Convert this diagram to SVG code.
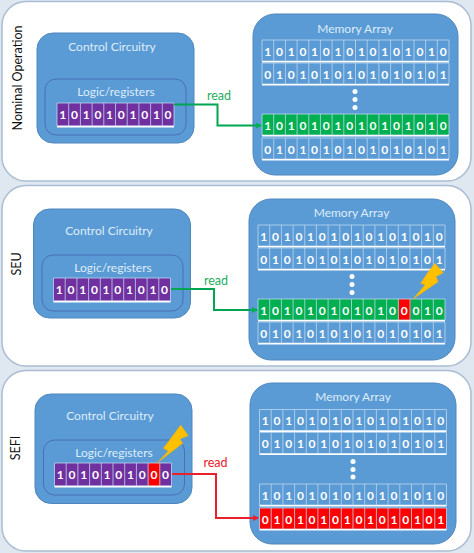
<svg xmlns="http://www.w3.org/2000/svg" width="474" height="553" viewBox="0 0 474 553">
<style>
.panel{fill:#fff;stroke:#aabdd2;stroke-width:1.5}
.box{fill:#5b9bd5;stroke:#4f86bd;stroke-width:1}
.logic{fill:#5b9bd5;stroke:#4a6fb5;stroke-width:1}
.cells{fill:none;stroke:#bdd7ee;stroke-width:.8}
.base{stroke:#fff;stroke-width:1.6;fill:none}
.title{font:12px Lato,"Liberation Sans",sans-serif;fill:#ddecf8;text-anchor:middle}
.bits{font:bold 12px Lato,"Liberation Sans",sans-serif;fill:#fff;text-anchor:middle}
.side{font:12.5px Lato,"Liberation Sans",sans-serif;fill:#111;text-anchor:middle}
.read{font:12.5px Lato,"Liberation Sans",sans-serif;text-anchor:middle}
.bolt{fill:#ffc000;stroke:#e8ad10;stroke-width:.5}
.wire{fill:none;stroke-width:2}
.dot{fill:#fff}
</style>
<defs>
<marker id="ag" markerWidth="6" markerHeight="6" refX="5" refY="3" orient="auto" markerUnits="userSpaceOnUse"><path d="M0 0L6 3L0 6z" fill="#00b050"/></marker>
<marker id="ar" markerWidth="6" markerHeight="6" refX="5" refY="3" orient="auto" markerUnits="userSpaceOnUse"><path d="M0 0L6 3L0 6z" fill="#e8212b"/></marker>
<g id="reg"><path class="cells" d="M0 0H117V23H0ZM11.7 0V23M23.4 0V23M35.1 0V23M46.8 0V23M58.5 0V23M70.2 0V23M81.9 0V23M93.6 0V23M105.3 0V23"/><path class="base" d="M0 23.6H117"/></g>
<g id="row"><path class="cells" d="M0 0H187V21H0ZM11.7 0V21M23.4 0V21M35.1 0V21M46.8 0V21M58.4 0V21M70.1 0V21M81.8 0V21M93.5 0V21M105.2 0V21M116.9 0V21M128.6 0V21M140.3 0V21M152 0V21M163.6 0V21M175.3 0V21"/><path class="base" d="M0 21.7H187"/></g>
</defs>
<rect width="474" height="553" fill="#dfe7f1"/>
<g id="panel-nominal"><rect class="panel" x="2" y="1.500" width="469" height="179.500" rx="24"/><text class="side" transform="translate(22,78) rotate(-90)">Nominal Operation</text></g>
<g id="panel-seu"><rect class="panel" x="2" y="185.500" width="469" height="180.500" rx="24"/><text class="side" transform="translate(21,264) rotate(-90)">SEU</text></g>
<g id="panel-sefi"><rect class="panel" x="2" y="370.500" width="469" height="180.500" rx="24"/><text class="side" transform="translate(20,448) rotate(-90)">SEFI</text></g>

<g id="control-nominal"><rect class="box" x="37" y="33" width="157" height="110" rx="16"/><rect class="logic" x="45" y="79" width="141" height="56" rx="11"/><text class="title" x="112" y="51">Control Circuitry</text><text class="title" x="116" y="96">Logic/registers</text>
<rect x="57" y="103" width="117" height="23" fill="#7030a0"/><use href="#reg" x="57" y="103"/><text class="bits" y="118.500" x="62.800 74.500 86.200 97.900 109.600 121.300 133 144.700 156.400 168.100">1010101010</text></g>

<g id="memory-nominal"><rect class="box" x="253" y="14" width="205" height="161" rx="22"/><text class="title" x="355" y="33">Memory Array</text>
<use href="#row" x="262" y="40"/><text class="bits" y="55.500" x="267.800 279.500 291.200 302.900 314.600 326.300 338 349.700 361.400 373.100 384.800 396.500 408.200 419.900 431.600 443.300">1010101010101010</text>
<use href="#row" x="262" y="63"/><text class="bits" y="78.500" x="267.800 279.500 291.200 302.900 314.600 326.300 338 349.700 361.400 373.100 384.800 396.500 408.200 419.900 431.600 443.300">0101010101010101</text>
<circle class="dot" cx="355" cy="91.500" r="2.500"/><circle class="dot" cx="355" cy="99.500" r="2.500"/><circle class="dot" cx="355" cy="107.500" r="2.500"/>
<rect x="262" y="114" width="187" height="21" fill="#00b050"/><use href="#row" x="262" y="114"/><text class="bits" y="129.500" x="267.800 279.500 291.200 302.900 314.600 326.300 338 349.700 361.400 373.100 384.800 396.500 408.200 419.900 431.600 443.300">1010101010101010</text>
<use href="#row" x="262" y="138"/><text class="bits" y="153.500" x="267.800 279.500 291.200 302.900 314.600 326.300 338 349.700 361.400 373.100 384.800 396.500 408.200 419.900 431.600 443.300">0101010101010101</text></g>

<g id="control-seu"><rect class="box" x="33.500" y="209" width="157" height="109" rx="16"/><rect class="logic" x="42" y="255" width="141" height="56" rx="11"/><text class="title" x="109" y="235">Control Circuitry</text><text class="title" x="113" y="272">Logic/registers</text>
<rect x="53.500" y="278" width="117" height="23" fill="#7030a0"/><use href="#reg" x="53.500" y="278"/><text class="bits" y="294" x="59.300 71 82.700 94.400 106.100 117.800 129.500 141.200 152.900 164.600">1010101010</text></g>

<g id="memory-seu"><rect class="box" x="249" y="199" width="206" height="161" rx="22"/><text class="title" x="351.500" y="217">Memory Array</text>
<use href="#row" x="258" y="225"/><text class="bits" y="240.500" x="263.800 275.500 287.200 298.900 310.600 322.300 334 345.700 357.400 369.100 380.800 392.500 404.200 415.900 427.600 439.300">1010101010101010</text>
<use href="#row" x="258" y="248"/><text class="bits" y="263.500" x="263.800 275.500 287.200 298.900 310.600 322.300 334 345.700 357.400 369.100 380.800 392.500 404.200 415.900 427.600 439.300">0101010101010101</text>
<circle class="dot" cx="352" cy="276.500" r="2.500"/><circle class="dot" cx="352" cy="284.500" r="2.500"/><circle class="dot" cx="352" cy="292.500" r="2.500"/>
<rect x="258" y="299" width="187" height="21" fill="#00b050"/><rect x="398.800" y="299" width="11.700" height="21" fill="#ff0000"/><use href="#row" x="258" y="299"/><text class="bits" y="314.500" x="263.800 275.500 287.200 298.900 310.600 322.300 334 345.700 357.400 369.100 380.800 392.500 404.200 415.900 427.600 439.300">1010101010100010</text>
<use href="#row" x="258" y="322"/><text class="bits" y="338" x="263.800 275.500 287.200 298.900 310.600 322.300 334 345.700 357.400 369.100 380.800 392.500 404.200 415.900 427.600 439.300">0101010101010101</text>
<polygon class="bolt" points="435,263.300 443.300,272.700 436,276.700 438.300,281.700 412.700,299.300 425,285 420.700,283.300 428.300,271.700"/></g>

<g id="control-sefi"><rect class="box" x="35" y="394" width="157" height="109.500" rx="16"/><rect class="logic" x="43.500" y="440" width="141" height="55" rx="11"/><text class="title" x="110" y="420">Control Circuitry</text><text class="title" x="114" y="457">Logic/registers</text>
<rect x="54.500" y="463" width="117" height="23" fill="#7030a0"/><rect x="148.500" y="463" width="11.700" height="23" fill="#ff0000"/><use href="#reg" x="54.500" y="463"/><text class="bits" y="479" x="60.300 72 83.700 95.400 107.100 118.800 130.500 142.200 153.900 165.600">1010101000</text>
<polygon class="bolt" points="180.700,425 188.300,435.700 180,439 182.700,443.300 156.700,463.300 168.300,451 163.300,448.300 173.300,435"/></g>

<g id="memory-sefi"><rect class="box" x="250" y="383" width="206" height="161" rx="22"/><text class="title" x="353" y="401">Memory Array</text>
<use href="#row" x="259.500" y="409.500"/><text class="bits" y="425" x="265.300 277 288.700 300.400 312.100 323.800 335.500 347.200 358.900 370.600 382.300 394 405.700 417.400 429.100 440.800">1010101010101010</text>
<use href="#row" x="259.500" y="432.500"/><text class="bits" y="448" x="265.300 277 288.700 300.400 312.100 323.800 335.500 347.200 358.900 370.600 382.300 394 405.700 417.400 429.100 440.800">0101010101010101</text>
<circle class="dot" cx="353" cy="461.500" r="2.500"/><circle class="dot" cx="353" cy="469.500" r="2.500"/><circle class="dot" cx="353" cy="477" r="2.500"/>
<use href="#row" x="259.500" y="484"/><text class="bits" y="499.500" x="265.300 277 288.700 300.400 312.100 323.800 335.500 347.200 358.900 370.600 382.300 394 405.700 417.400 429.100 440.800">1010101010101010</text>
<rect x="259.500" y="508" width="187" height="21" fill="#ff0000"/><use href="#row" x="259.500" y="508"/><text class="bits" y="523.500" x="265.300 277 288.700 300.400 312.100 323.800 335.500 347.200 358.900 370.600 382.300 394 405.700 417.400 429.100 440.800">0101010101010101</text></g>

<g id="connectors">
<path class="wire" stroke="#00a651" marker-end="url(#ag)" d="M174 104.500H217.500V125.500H261"/>
<path class="wire" stroke="#00a651" marker-end="url(#ag)" d="M171 289H214V310H257"/>
<path class="wire" stroke="#e8212b" marker-end="url(#ar)" d="M172 474H216V518H258"/>
<text class="read" x="219" y="100" fill="#1fae5e">read</text>
<text class="read" x="216" y="285" fill="#1fae5e">read</text>
<text class="read" x="215.500" y="467" fill="#e8212b">read</text>
</g>
</svg>
